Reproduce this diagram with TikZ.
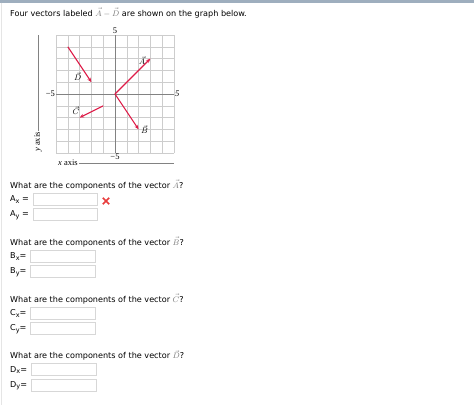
\documentclass[tikz,border=0pt]{standalone}
\usepackage{fontspec}
\setmainfont{Liberation Serif}
\newfontfamily\qfont{DejaVu Sans}
\usetikzlibrary{arrows.meta}
\definecolor{vecred}{RGB}{222,28,72}
\definecolor{gridc}{RGB}{205,205,205}
\definecolor{axc}{RGB}{130,130,130}
\definecolor{boxc}{RGB}{215,215,215}
\definecolor{topbar}{RGB}{158,174,190}
\definecolor{mgray}{RGB}{120,120,120}
\definecolor{xred}{RGB}{232,60,60}
\newcommand{\qsub}[2]{#1\raisebox{-1.8pt}{\fontsize{6.5}{7}\selectfont #2}}
\begin{document}
\begin{tikzpicture}[x=1pt,y=-1pt,
  qtext/.style={anchor=base west,inner sep=0pt,font=\qfont\fontsize{8.1}{10}\selectfont},
  ansbox/.style={draw=boxc,line width=0.6pt,fill=white},
  vec/.style={draw=vecred,line width=1.1pt,-{Stealth[length=4.5pt,width=3.6pt]}},
  glab/.style={inner sep=1pt,font=\fontsize{8.5}{9}\selectfont},
  vlab/.style={inner sep=0pt,font=\fontsize{8.5}{9}\selectfont}]
\path[use as bounding box,fill=white] (0,0) rectangle (474,405);
\fill[topbar] (0,0) rectangle (474,2.5);
\draw[gray!20,line width=0.8pt] (1,2.5) -- (1,405);
% title
\node[qtext] (title) at (10,16) {Four vectors labeled {\color{mgray}$\vec{A}-\vec{D}$} are shown on the graph below.};
% graph
\begin{scope}[shift={(115,94)},x=11.8pt,y=11.8pt]
  \draw[gridc,line width=0.4pt,step=1] (-5,-5) grid (5,5);
  \draw[axc,line width=0.6pt] (-5,0) -- (5,0);
  \draw[axc,line width=0.6pt] (0,-5) -- (0,5);
  \node[glab,anchor=south] (ltop) at (0,5) {5};
  \node[glab,anchor=north] (lbot) at (0,-5) {−5};
  \node[glab,anchor=east] (lleft) at (-5,0) {−5};
  \node[glab,anchor=west] (lright) at (5,0) {\textit{5}};
  \coordinate (O) at (0,0);
  \coordinate (Ae) at (3,3);
  \coordinate (Be) at (2,-3);
  \coordinate (Cs) at (-1,-1);
  \coordinate (Ce) at (-3,-2);
  \coordinate (Ds) at (-4,4);
  \coordinate (De) at (-2,1);
  \draw[vec] (O) -- (Ae);
  \draw[vec] (O) -- (Be);
  \draw[vec] (Cs) -- (Ce);
  \draw[vec] (Ds) -- (De);
  \node[vlab] (la) at (2.3,2.85) {$\vec{A}$};
  \node[vlab] (lb) at (2.5,-3.05) {$\vec{B}$};
  \node[vlab] (lc) at (-3.3,-1.45) {$\vec{C}$};
  \node[vlab] (ld) at (-3.15,1.5) {$\vec{D}$};
\end{scope}
\node[glab,anchor=east,inner sep=1pt] (xlab) at (79,163) {\textit{x} axis};
\coordinate (xend) at (174,163);
\draw[axc,line width=0.6pt] (xlab.east) -- (xend);
\node[glab,rotate=90,inner sep=1pt] (ylab) at (38,142) {\textit{y} axis};
\coordinate (yend) at (38,35);
\draw[axc,line width=0.6pt] (ylab.east) -- (yend);
% question A
\node[qtext] (qa) at (10,188) {What are the components of the vector {\color{mgray}$\vec{A}$}?};
\node[qtext] (ax) at (10,201.5) {\qsub{A}{x} =};
\node[qtext] (ay) at (10,216.5) {\qsub{A}{y} =};
\node[ansbox,minimum width=64pt,minimum height=12pt,anchor=north west,inner sep=0pt] (bax) at (33,192.5) {};
\node[ansbox,minimum width=64pt,minimum height=12pt,anchor=north west,inner sep=0pt] (bay) at (33,208) {};
\node[inner sep=0pt,minimum size=6pt] (xmark) at (106,201) {};
\draw[xred,line width=1.6pt] (xmark.north west) -- (xmark.south east);
\draw[xred,line width=1.6pt] (xmark.north east) -- (xmark.south west);
% question B
\node[qtext] (qb) at (10,245) {What are the components of the vector {\color{mgray}$\vec{B}$}?};
\node[qtext] (bxl) at (10,258.5) {\qsub{B}{x}=};
\node[qtext] (byl) at (10,273.5) {\qsub{B}{y}=};
\node[ansbox,minimum width=65pt,minimum height=12pt,anchor=north west,inner sep=0pt] (bbx) at (30,249.5) {};
\node[ansbox,minimum width=65pt,minimum height=12pt,anchor=north west,inner sep=0pt] (bby) at (30,265) {};
% question C
\node[qtext] (qc) at (10,302) {What are the components of the vector {\color{mgray}$\vec{C}$}?};
\node[qtext] (cxl) at (10,315.5) {\qsub{C}{x}=};
\node[qtext] (cyl) at (10,330.5) {\qsub{C}{y}=};
\node[ansbox,minimum width=65pt,minimum height=12pt,anchor=north west,inner sep=0pt] (bcx) at (30,306.5) {};
\node[ansbox,minimum width=65pt,minimum height=12pt,anchor=north west,inner sep=0pt] (bcy) at (30,322) {};
% question D
\node[qtext] (qd) at (10,358.5) {What are the components of the vector {\color{mgray}$\vec{D}$}?};
\node[qtext] (dxl) at (10,372) {\qsub{D}{x}=};
\node[qtext] (dyl) at (10,387) {\qsub{D}{y}=};
\node[ansbox,minimum width=65pt,minimum height=12pt,anchor=north west,inner sep=0pt] (bdx) at (31,363) {};
\node[ansbox,minimum width=65pt,minimum height=12pt,anchor=north west,inner sep=0pt] (bdy) at (31,378.5) {};
\end{tikzpicture}
\end{document}
